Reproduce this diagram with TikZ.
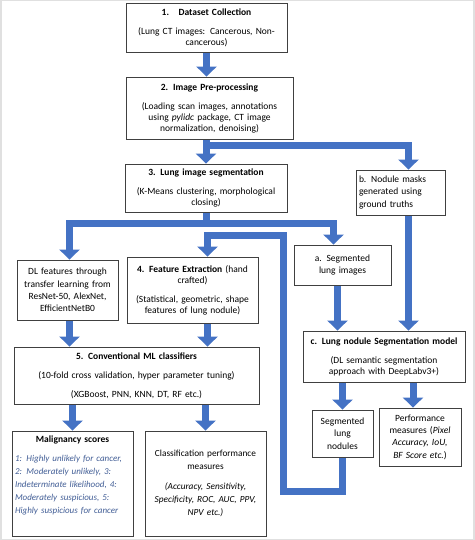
\documentclass[tikz,border=0pt]{standalone}
\usepackage{fontspec}
\setmainfont{Carlito}
\usetikzlibrary{arrows.meta}
\pgfdeclarelayer{edgelayer}
\pgfdeclarelayer{nodelayer}
\pgfsetlayers{edgelayer,nodelayer,main}
\definecolor{flowblue}{RGB}{68,114,196}
\definecolor{scoreblue}{RGB}{66,94,150}
\tikzstyle{stage_box}=[rectangle,draw=black!75,fill=white,line width=0.9pt,inner sep=3pt,align=center,font=\fontsize{9.5}{11}\selectfont]
\tikzstyle{side_box}=[stage_box,font=\fontsize{9.5}{12.3}\selectfont]
\tikzstyle{flow}=[draw=flowblue,line width=7pt,line join=miter,-{Triangle[width=20pt,length=10pt]}]

\begin{document}
\begin{tikzpicture}[x=1pt,y=-1pt]
	\useasboundingbox (0,0) rectangle (474,540);
	\draw [black!12, line width=3pt] (0,0) rectangle (474,540);
	\begin{pgfonlayer}{nodelayer}
		\node [style={stage_box}, text width=155pt, minimum height=49pt] (collect) at (206.5, 27.5) {\textbf{1.\quad Dataset Collection}\\[8pt](Lung CT images: Cancerous, Non-\\cancerous)};
		\node [style={stage_box}, text width=161pt, minimum height=62pt] (preproc) at (209.5, 108) {\textbf{2. Image Pre-processing}\\[8pt](Loading scan images, annotations\\using \textit{pylidc} package, CT image\\normalization, denoising)};
		\node [style={stage_box}, text width=156pt, minimum height=48pt] (lungseg) at (206, 188) {\textbf{3. Lung image segmentation}\\[8pt](K-Means clustering, morphological\\closing)};
		\node [style={side_box}, align=left, text width=83pt, minimum height=45pt] (masks) at (400.5, 192.5) {b. Nodule masks\\generated using\\ground truths};
		\node [style={side_box}, text width=95pt, minimum height=60pt] (dlfeat) at (67.5, 290) {DL features through\\transfer learning from\\ResNet-50, AlexNet,\\EfficientNetB0};
		\node [style={stage_box}, text width=125pt, minimum height=66pt] (handfeat) at (192.5, 290) {\textbf{4. Feature Extraction} (hand\\crafted)\\[8pt](Statistical, geometric, shape\\features of lung nodule)};
		\node [style={side_box}, text width=91pt, minimum height=40pt] (seglung) at (342.5, 265) {a.\enspace Segmented\\lung images};
		\node [style={stage_box}, text width=156pt, minimum height=51pt] (nodmodel) at (384, 356.5) {\textbf{c. Lung nodule Segmentation model}\\[8pt](DL semantic segmentation\\approach with DeepLabv3+)};
		\node [style={stage_box}, text width=239pt, minimum height=57pt] (classif) at (136.5, 375.5) {\textbf{5. Conventional ML classifiers}\\[8pt](10-fold cross validation, hyper parameter tuning)\\[8pt](XGBoost, PNN, KNN, DT, RF etc.)};
		\node [style={side_box}, font=\fontsize{9}{13}\selectfont, text width=115pt, minimum height=105pt] (malig) at (72.5, 483.5) {\textbf{\fontsize{9.5}{13}\selectfont Malignancy scores}\\[6pt]
			\color{scoreblue}\itshape
			\makebox[\linewidth][s]{1: Highly unlikely for cancer,}\\
			\makebox[\linewidth][s]{2: Moderately unlikely, 3:}\\
			\makebox[\linewidth][s]{Indeterminate likelihood, 4:}\\
			\makebox[\linewidth][s]{Moderately suspicious, 5:}\\
			\makebox[\linewidth][l]{Highly suspicious for cancer}\par\vspace{16pt}};
		\node [style={side_box}, font=\fontsize{9.3}{13}\selectfont, text width=115pt, minimum height=105pt] (clsperf) at (205.5, 483.5) {Classification performance\\measures\\[7pt]\textit{(Accuracy, Sensitivity,}\\\textit{Specificity, ROC, AUC, PPV,}\\\textit{NPV etc.)}\par\vspace{26pt}};
		\node [style={side_box}, text width=55pt, minimum height=47pt] (segnod) at (342.5, 433.5) {Segmented\\lung\\nodules};
		\node [style={side_box}, text width=76pt, minimum height=58pt] (segperf) at (420, 437) {Performance\\measures (\textit{Pixel}\\\textit{Accuracy, IoU,}\\\textit{BF Score etc.})};
	\end{pgfonlayer}
	\coordinate (loopbase) at (283, 491);
	\coordinate (loopturn) at (283, 235);
	\begin{pgfonlayer}{edgelayer}
		\draw [style=flow] (collect.south) to (collect.south |- preproc.north);
		\draw [style=flow] (lungseg.north |- preproc.south) to (lungseg.north);
		\draw [style=flow] (lungseg.north |- preproc.south) -- ++(0, 6) -| ([xshift=8pt]masks.north);
		\draw [style=flow] (lungseg.south) -- ++(0, 11) -| ([xshift=2pt]dlfeat.north);
		\draw [style=flow] (lungseg.south) -- ++(0, 11) -| ([xshift=-9pt]seglung.north);
		\draw [style=flow] (segnod.south) |- (loopbase) -- (loopturn) -| ([xshift=15pt]handfeat.north);
		\draw [style=flow] ([xshift=-5pt]seglung.south) to ([xshift=-5pt]seglung.south |- nodmodel.north);
		\draw [style=flow] ([xshift=8pt]masks.south) to ([xshift=8pt]masks.south |- nodmodel.north);
		\draw [style=flow] ([xshift=2pt]dlfeat.south) to ([xshift=2pt]dlfeat.south |- classif.north);
		\draw [style=flow] ([xshift=15pt]handfeat.south) to ([xshift=15pt]handfeat.south |- classif.north);
		\draw [style=flow] (malig.north |- classif.south) to (malig.north);
		\draw [style=flow] (clsperf.north |- classif.south) to (clsperf.north);
		\draw [style=flow] (segnod.north |- nodmodel.south) to (segnod.north);
		\draw [style=flow] ([xshift=-7pt]segperf.north |- nodmodel.south) to ([xshift=-7pt]segperf.north);
	\end{pgfonlayer}
\end{tikzpicture}
\end{document}
